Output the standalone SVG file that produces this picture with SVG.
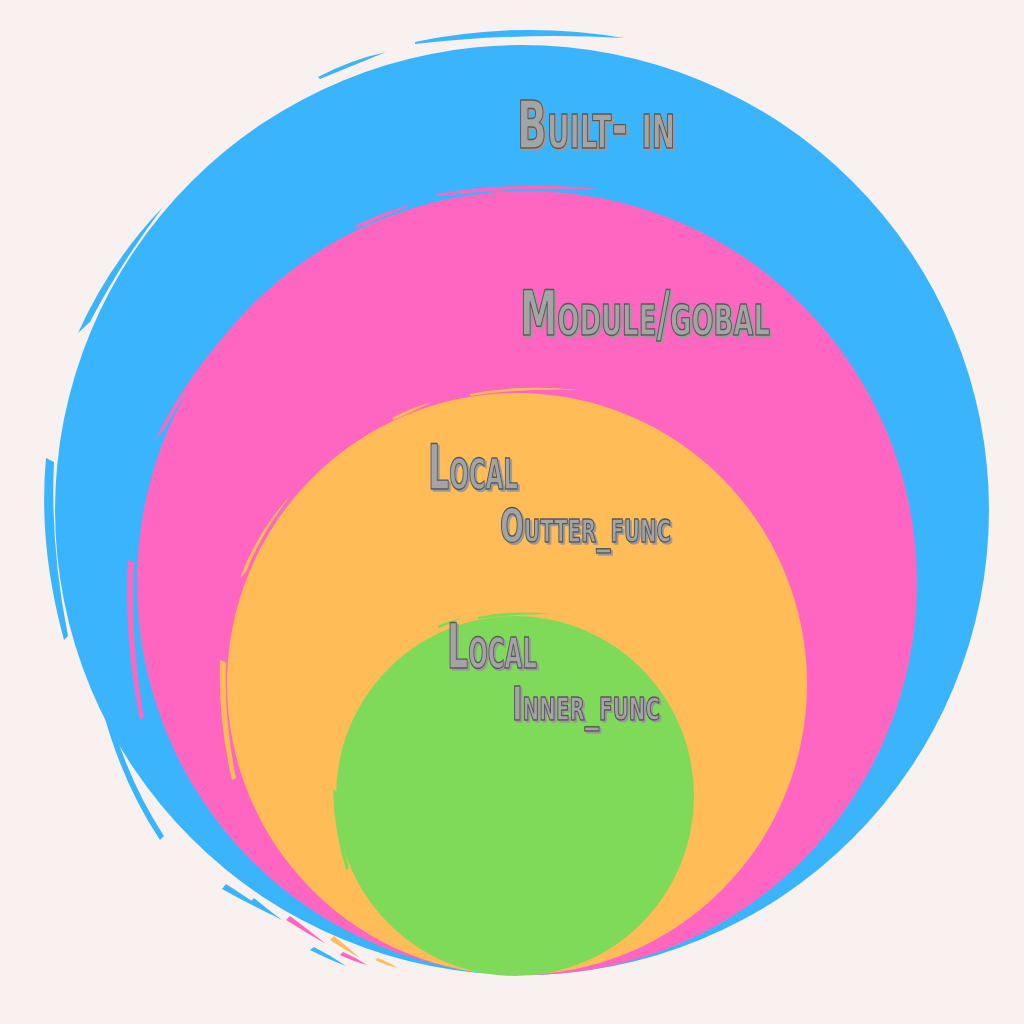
<svg xmlns="http://www.w3.org/2000/svg" width="1024" height="1024" viewBox="0 0 1024 1024">
<defs>
<filter id="ds" x="-5%" y="-10%" width="115%" height="135%">
<feOffset in="SourceAlpha" dx="2" dy="2" result="o"/>
<feFlood flood-color="#9a9a9a" result="c"/>
<feComposite in="c" in2="o" operator="in" result="s"/>
<feMerge><feMergeNode in="s"/><feMergeNode in="SourceGraphic"/></feMerge>
</filter>
</defs>
<style>
.bg{fill:#f9f1ef}
.blue{fill:#3ab5fd}
.pink{fill:#ff66c1}
.orange{fill:#ffbc57}
.green{fill:#80da5a}
.lbl{font-family:"DejaVu Sans Condensed","DejaVu Sans",sans-serif;font-weight:bold;font-variant:small-caps;fill:#a4a4a4;stroke:#585858;stroke-width:1.4;stroke-linejoin:round;filter:url(#ds)}
</style>
<rect class="bg" x="0" y="0" width="1024" height="1024"/>
<g id="connectors"/>
<g id="builtin">
<ellipse class="blue" cx="522" cy="510" rx="467" ry="465"/>
<path class="blue" d="M415 42 Q520 20 624 38 Q520 32 415 44 Z"/>
<path class="blue" d="M318 77 Q350 60 386 52 Q352 66 320 79 Z"/>
<path class="blue" d="M78 333 Q110 262 163 207 Q120 264 90 322 Z"/>
<path class="blue" d="M46 458 Q38 545 64 640 L68 636 Q50 545 54 462 Z"/>
<path class="blue" d="M100 700 Q120 780 160 840 L164 836 Q126 778 106 702 Z"/>
<path class="blue" d="M222 889 Q245 902 272 915 Q248 898 226 884 Z"/>
<path class="blue" d="M250 902 Q265 912 282 920 Q266 908 254 898 Z"/>
<path class="blue" d="M310 950 Q330 960 346 966 Q330 955 314 947 Z"/>
<path class="bg" d="M832 143 Q868 170 900 212 Q862 176 838 149 Z"/>
<text class="lbl" x="517" y="148" font-size="65" textLength="158" lengthAdjust="spacingAndGlyphs">Built- in</text>
</g>
<g id="module">
<ellipse class="pink" cx="527" cy="583" rx="390" ry="392"/>
<path class="pink" d="M437 194 Q520 180 606 190 Q520 186 437 196 Z"/>
<path class="pink" d="M355 226 Q385 211 413 204 Q386 216 357 228 Z"/>
<path class="pink" d="M155 440 Q185 380 227 333 Q192 380 165 428 Z"/>
<path class="pink" d="M128 560 Q124 640 140 720 L144 718 Q130 640 134 562 Z"/>
<path class="pink" d="M286 920 Q305 932 326 944 Q306 928 290 916 Z"/>
<path class="pink" d="M340 955 Q355 962 367 965 Q355 957 343 952 Z"/>
<text class="lbl" x="520" y="335" font-size="62" textLength="250" lengthAdjust="spacingAndGlyphs">Module/gobal</text>
</g>
<g id="outter">
<ellipse class="orange" cx="517" cy="684" rx="290" ry="291"/>
<path class="orange" d="M470 394 Q522 384 578 390 Q522 388 470 396 Z"/>
<path class="orange" d="M392 418 Q410 408 432 402 Q412 412 394 420 Z"/>
<path class="orange" d="M240 578 Q258 530 292 494 Q262 532 246 572 Z"/>
<path class="orange" d="M220 660 Q218 720 232 780 L236 778 Q224 720 226 662 Z"/>
<path class="orange" d="M330 940 Q345 950 360 958 Q346 946 334 936 Z"/>
<path class="orange" d="M375 960 Q388 966 398 968 Q388 962 378 958 Z"/>
<text class="lbl" x="428" y="489" font-size="62" textLength="90" lengthAdjust="spacingAndGlyphs">Local</text>
<text class="lbl" x="500" y="542" font-size="46" textLength="171" lengthAdjust="spacingAndGlyphs">Outter_func</text>
</g>
<g id="inner">
<ellipse class="green" cx="515" cy="796" rx="179" ry="180"/>
<path class="green" d="M478 617 Q510 610 550 614 Q512 614 478 619 Z"/>
<path class="green" d="M437 626 Q448 621 462 618 Q450 624 439 628 Z"/>
<path class="green" d="M333 790 Q334 830 346 870 L349 868 Q338 830 338 792 Z"/>
<text class="lbl" x="447" y="668" font-size="62" textLength="90" lengthAdjust="spacingAndGlyphs">Local</text>
<text class="lbl" x="512" y="720" font-size="46" textLength="148" lengthAdjust="spacingAndGlyphs">Inner_func</text>
</g>
</svg>
